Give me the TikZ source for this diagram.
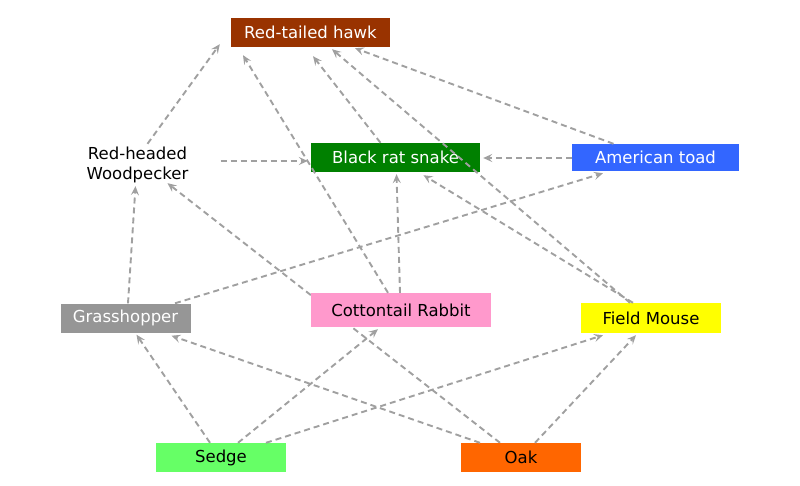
\documentclass[tikz,border=0pt]{standalone}
\usepackage{fontspec}
\setmainfont{DejaVu Sans}
\usepackage{xcolor}
\usetikzlibrary{positioning, arrows.meta, backgrounds}

\definecolor{hawkc}{RGB}{153,51,0}
\definecolor{snakec}{RGB}{0,128,0}
\definecolor{toadc}{RGB}{51,102,255}
\definecolor{grassc}{RGB}{150,150,150}
\definecolor{rabbitc}{RGB}{255,153,204}
\definecolor{mousec}{RGB}{255,255,0}
\definecolor{sedgec}{RGB}{102,255,102}
\definecolor{oakc}{RGB}{255,102,0}
\definecolor{linkc}{RGB}{160,160,160}

\begin{document}
\begin{tikzpicture}[
  x=1pt, y=-1pt,
  font=\fontsize{16.5}{20}\selectfont,
  species/.style={minimum height=29pt, inner sep=0pt, text=white},
  dark/.style={species, text=black},
  link/.style={draw=linkc, line width=1.9pt, dash pattern=on 6pt off 4pt,
    -{Stealth[length=9pt, width=8pt, inset=3.5pt]}},
]
  \useasboundingbox (0,0) rectangle (800,486);

  % Top and middle levels
  \node[species, fill=hawkc, minimum width=159pt] (hawk) at (310.5,32.5) {Red-tailed hawk};
  \node[align=center, inner sep=3pt] (wood) at (137.5,165) {Red-headed\\Woodpecker};
  \node[species, fill=snakec, minimum width=169pt] (snake) at (395.5,157.5) {Black rat snake};
  \node[species, fill=toadc, minimum width=167pt, minimum height=27pt] (toad) at (655.5,157.5) {American toad};

  % Consumers
  \node[species, fill=grassc, minimum width=130pt] (grass) at (125.5,318) {Grasshopper};
  \node[dark, fill=rabbitc, minimum width=180pt, minimum height=34pt] (rabbit) at (401,310) {Cottontail Rabbit};
  \node[dark, fill=mousec, minimum width=140pt, minimum height=30pt] (mouse) at (651,318) {Field Mouse};

  % Producers
  \node[dark, fill=sedgec, minimum width=130pt] (sedge) at (221,457.5) {Sedge};
  \node[dark, fill=oakc, minimum width=120pt] (oak) at (521,457.5) {Oak};

  % Who eats whom
  \draw[link] ([xshift=10pt]wood.north) -- ([xshift=-11pt,yshift=3pt]hawk.south west);
  \draw[link] ([xshift=-13pt]rabbit.north) -- ([xshift=-67.5pt,yshift=-8pt]hawk.south);
  \draw[link] ([xshift=-15pt]snake.north) -- ([xshift=2.5pt,yshift=-9pt]hawk.south);
  \draw[link] ([xshift=-21pt]mouse.north) -- ([xshift=21.5pt,yshift=-2pt]hawk.south);
  \draw[link] ([xshift=-42pt]toad.north) -- ([xshift=44.5pt,yshift=-1pt]hawk.south);

  \draw[link] ([xshift=29pt,yshift=4pt]wood.east) -- ([xshift=-3pt,yshift=-3.5pt]snake.west);
  \draw[link] ([yshift=-0.5pt]toad.west) -- ([xshift=3pt,yshift=-0.5pt]snake.east);
  \draw[link] ([xshift=-1pt]rabbit.north) -- ([xshift=1pt,yshift=-2pt]snake.south);
  \draw[link] ([xshift=-18pt]mouse.north) -- ([xshift=28pt,yshift=-3pt]snake.south);

  \draw[link] ([xshift=49.5pt]grass.north) -- ([xshift=-52.5pt,yshift=-2pt]toad.south);
  \draw[link] ([xshift=2.5pt]grass.north) -- ([xshift=-2pt]wood.south);
  \begin{scope}[on background layer]
    \draw[link] ([xshift=-21pt]oak.north) -- ([xshift=30pt,yshift=3pt]wood.south);
  \end{scope}

  \draw[link] ([xshift=-41pt]oak.north) -- ([xshift=46pt,yshift=-3pt]grass.south);
  \draw[link] ([xshift=-11pt]sedge.north) -- ([xshift=11pt,yshift=-2pt]grass.south);
  \draw[link] ([xshift=17pt]sedge.north) -- ([xshift=-23pt,yshift=-2pt]rabbit.south);
  \draw[link] ([xshift=45pt]sedge.north) -- ([xshift=-48pt,yshift=-2pt]mouse.south);
  \draw[link] ([xshift=14pt]oak.north) -- ([xshift=-15pt,yshift=-2pt]mouse.south);
\end{tikzpicture}
\end{document}
